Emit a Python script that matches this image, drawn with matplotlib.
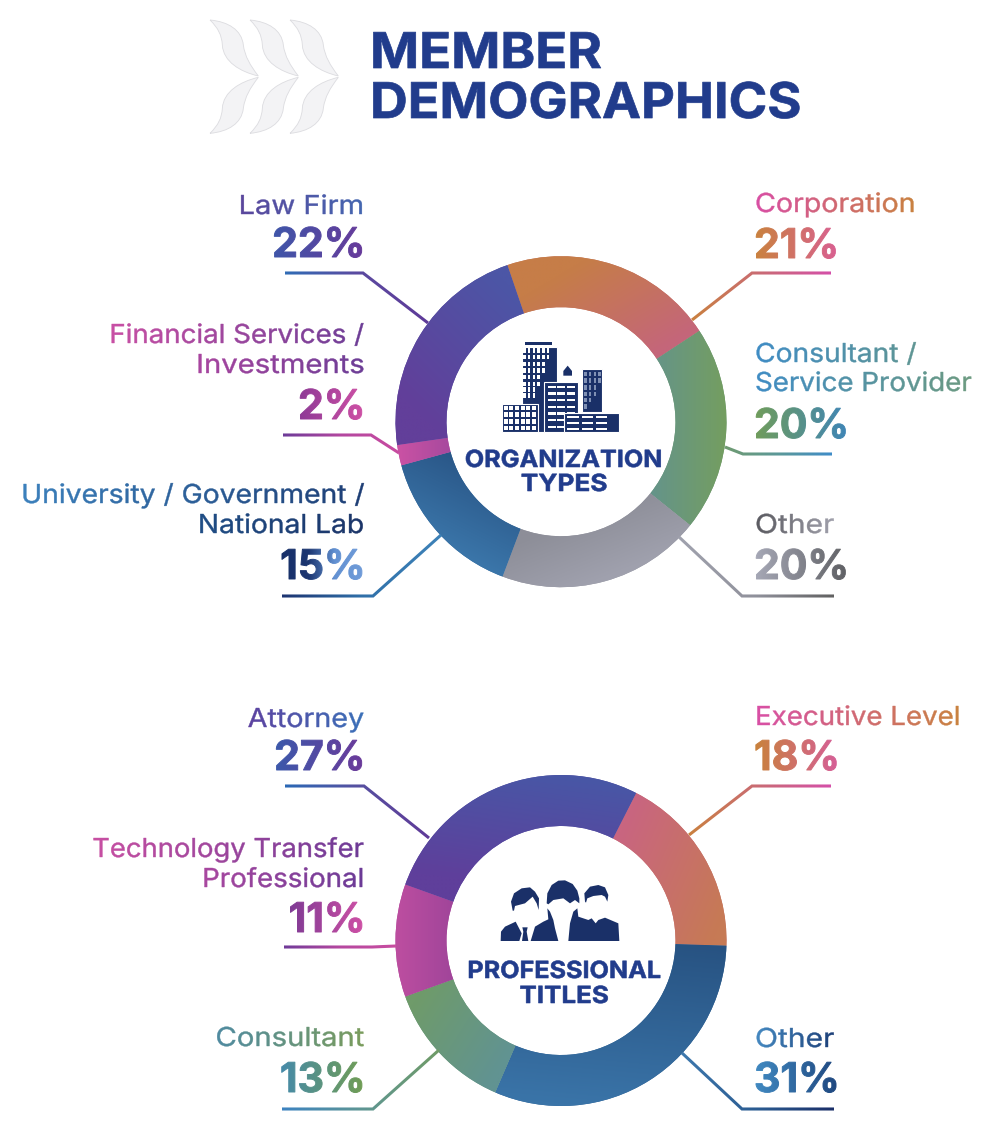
import math

import numpy as np
import matplotlib
matplotlib.use('Agg')
import matplotlib.pyplot as plt
import matplotlib.patheffects as pe
from matplotlib.colors import to_rgb
from matplotlib.patches import Rectangle, Polygon, PathPatch
from matplotlib.path import Path
from matplotlib.transforms import Affine2D, Bbox

# organization types, clockwise from the law firm / corporation edge
org_names = ['Corporation', 'Consultant /\nService Provider', 'Other',
             'University / Government /\nNational Lab',
             'Financial Services /\nInvestments', 'Law Firm']
org_values = [21, 20, 20, 15, 2, 22]

# professional titles, clockwise
title_names = ['Executive Level', 'Other', 'Consultant',
               'Technology Transfer\nProfessional', 'Attorney']
title_values = [18, 31, 13, 11, 27]

FONT = 'Inter'
NAVY = '#1a3068'
BLUE = '#213c8c'
SX_LABEL = 1.06
SX_PCT = 1.0
SX_HEAD = 1.06


class Grad(pe.AbstractPathEffect):
    # paints whatever it gets in 1px columns, colour running left to right,
    # sx stretches the glyphs about anchor x (Montserrat is wider than what we have),
    # thick adds a thin outline to glyphs for the heavier look
    def __init__(self, stops, sx=1.0, anchor=None, thick=0.0):
        super().__init__()
        self.rgb = np.array([to_rgb(c) for c in stops])
        self.sx = sx
        self.anchor = anchor
        self.thick = thick

    def draw_path(self, renderer, gc, tpath, affine, rgbFace=None):
        if self.anchor is not None:
            ax0 = canvas.transData.transform(self.anchor)[0]
            affine = affine + Affine2D().translate(-ax0, 0).scale(self.sx, 1).translate(ax0, 0)
        ext = tpath.get_extents(affine)
        pos = np.linspace(0, 1, len(self.rgb))
        h = renderer.height
        for px in range(math.floor(ext.x0) - 3, math.ceil(ext.x1) + 3):
            t = np.clip((px + 0.5 - ext.x0) / max(ext.width, 1), 0, 1)
            col = tuple(np.interp(t, pos, self.rgb[:, i]) for i in range(3))
            g = renderer.new_gc()
            g.copy_properties(gc)
            g.set_foreground(col)
            if rgbFace is not None:
                g.set_linewidth(self.thick)
            g.set_clip_rectangle(Bbox([[px, 0], [px + 1, h]]))
            renderer.draw_path(g, tpath, affine, col if rgbFace is not None else None)
            g.restore()


def put(x, y, s, size, weight, ha, stops, sx, thick):
    canvas.text(x, y, s, fontsize=size, fontweight=weight, family=FONT, ha=ha, va='baseline',
                path_effects=[Grad(stops, sx, (x, y), thick)])


def label(x, y, s, ha, stops, sx=SX_LABEL):
    put(x, y, s, 18.8, 'normal', ha, stops, sx, 0.3)


def pct(x, y, v, ha, stops):
    put(x + (1.5 if ha == 'right' else -1), y, f'{v}%', 29.5, 'bold', ha, stops, SX_PCT, 0.7)


def leader(xs, ys, stops):
    canvas.plot(xs, ys, lw=2.2, solid_joinstyle='miter', solid_capstyle='butt',
                path_effects=[Grad(stops)])


def donut(cy, values, start, grads):
    R = 165.5
    m = 1.02
    ax = fig.add_axes([(561 - R * m) / 1000, 1 - (cy + R * m) / 1146, 2 * R * m / 1000, 2 * R * m / 1146])
    wedges, _ = ax.pie(values, startangle=start, counterclock=False, radius=1, frame=True,
                       wedgeprops=dict(width=1 - 114.5 / 165.5, linewidth=0))
    xx, yy = np.meshgrid(np.linspace(-m, m, 340), np.linspace(m, -m, 340))
    for w, (p0, c0, p1, c1) in zip(wedges, grads):
        dx, dy = p1[0] - p0[0], p1[1] - p0[1]
        t = np.clip(((xx - p0[0]) * dx + (yy - p0[1]) * dy) / (dx * dx + dy * dy), 0, 1)[..., None]
        img = np.array(to_rgb(c0)) * (1 - t) + np.array(to_rgb(c1)) * t
        w.set_facecolor(np.array(to_rgb(c0)) * 0.5 + np.array(to_rgb(c1)) * 0.5)
        im = ax.imshow(img, extent=(-m, m, -m, m), interpolation='bilinear', zorder=3)
        im.set_clip_path(w)
    ax.set_xlim(-m, m)
    ax.set_ylim(-m, m)
    ax.set_aspect('equal')
    ax.axis('off')


def rects(x0, y0, xs, ys, w, h, counts=None, color='white', z=6):
    # window grid given in 3x zoom coordinates of the icon
    for r, y in enumerate(ys):
        n = len(xs) if counts is None else counts[r]
        for x in xs[:n]:
            canvas.add_patch(Rectangle((x0 + x / 3, y0 + y / 3), w / 3, h / 3, fc=color, lw=0, zorder=z))


def block(x0, y0, x1, y1, z, off=(495, 335), edge='white'):
    canvas.add_patch(Rectangle((off[0] + x0 / 3, off[1] + y0 / 3), (x1 - x0) / 3, (y1 - y0) / 3,
                               fc=NAVY, ec=edge, lw=0.8, zorder=z))


def blob(pts, z=5):
    p = [(490 + x / 3, 870 + y / 3) for x, y in pts]
    canvas.add_patch(Polygon(p, closed=True, fc=NAVY, lw=0, zorder=z))


fig = plt.figure(figsize=(10, 11.46), dpi=100, facecolor='white')

donut(421.7, org_values, 108.9, [
    ((0.1, 0.95), '#c67d48', (0.45, 0.35), '#c4667a'),
    ((0.55, 0), '#65948a', (1, 0), '#749e60'),
    ((0, -0.62), '#8d8e98', (0.15, -1), '#a0a1ae'),
    ((-0.35, -0.35), '#2a5788', (-0.6, -0.85), '#3c78ac'),
    ((-1, 0), '#cc52a4', (-0.68, 0), '#a84a9e'),
    ((-0.2, 0.7), '#4c56a6', (-0.85, 0.05), '#623f9a'),
])
donut(940.5, title_values, 63, [
    ((0.3, 0.5), '#c96580', (1, 0.2), '#c67a55'),
    ((0.3, 0.1), '#26507f', (0.2, -1), '#3a74a8'),
    ((-0.9, -0.4), '#6f9b6a', (-0.35, -0.75), '#619392'),
    ((-1, 0), '#bd4ea0', (-0.65, 0), '#a0459a'),
    ((0, 1), '#4857a6', (-0.1, 0.3), '#5f3f9b'),
])

canvas = fig.add_axes([0, 0, 1, 1], facecolor='none')
canvas.set_xlim(0, 1000)
canvas.set_ylim(1146, 0)
canvas.axis('off')

# header chevrons
leaf_top = [(60, 60), (85, 85), (95, 105), (97, 135), (100, 185), (150, 215), (205, 228),
            (180, 195), (165, 170), (160, 135), (155, 90), (115, 65), (60, 60)]
codes = [Path.MOVETO] + [Path.CURVE4] * 12
for k in range(3):
    for flip in (False, True):
        v = [(190 + (x + 120 * k) / 3, (460 - y if flip else y) / 3) for x, y in leaf_top]
        canvas.add_patch(PathPatch(Path(v, codes), fc='#f3f3f5', ec='#dcdce0', lw=0.6))

put(370, 68, 'MEMBER', 35.5, 'bold', 'left', [BLUE, BLUE], 1.07, 0.5)
put(370, 118, 'DEMOGRAPHICS', 35.5, 'bold', 'left', [BLUE, BLUE], SX_HEAD, 0.5)

# left and right labels
LX, RX = 364, 755
label(LX, 214, org_names[5], 'right', ['#5a469c', '#4466b0'], 1.115)
pct(LX, 257, org_values[5], 'right', ['#3f55a8', '#663a9a'])
l1, l2 = org_names[4].split('\n')
label(LX, 343, l1, 'right', ['#c84fa4', '#6c3d96'])
label(LX, 373, l2, 'right', ['#a8459f', '#6c3d96'], 1.12)
pct(LX, 419, org_values[4], 'right', ['#8f3a96', '#cc4fa4'])
l1, l2 = org_names[3].split('\n')
label(LX, 503, l1, 'right', ['#3b80bc', '#1d3d74'], 1.082)
label(LX, 533, l2, 'right', ['#1f4d85', '#1b3468'], 1.08)
pct(LX, 579, org_values[3], 'right', ['#172f68', '#1b3570', '#6291d2', '#6f9bd8'])

label(RX, 212, org_names[0], 'left', ['#d84ea3', '#c98140'], 1.095)
pct(RX, 258, org_values[0], 'left', ['#c9813f', '#d8608f'])
l1, l2 = org_names[1].split('\n')
label(RX, 362, l1, 'left', ['#3f8cc4', '#5f9593'], 1.08)
label(RX, 391, l2, 'left', ['#3f8cc4', '#6c9a80'])
pct(RX, 438, org_values[1], 'left', ['#6f9c5c', '#3f85b4'])
label(RX, 533, org_names[2], 'left', ['#5a5a60', '#a0a0ab'], 1.15)
pct(RX, 579, org_values[2], 'left', ['#a5a7b5', '#606165'])

label(LX, 727, title_names[4], 'right', ['#5d42a0', '#3a70b8'], 1.1)
pct(LX, 770, title_values[4], 'right', ['#3c58aa', '#6a3a9a'])
l1, l2 = title_names[3].split('\n')
label(LX, 857, l1, 'right', ['#c84fa2', '#6d3a96'], 1.05)
label(LX, 887, l2, 'right', ['#a8479f', '#6b3a96'])
pct(LX, 932, title_values[3], 'right', ['#7f3a94', '#cc4fa4'])
label(LX, 1046, title_names[2], 'right', ['#4f8aa0', '#7a9c5c'], 1.12)
pct(LX, 1092, title_values[2], 'right', ['#468aa8', '#6f9c55'])

label(RX, 725, title_names[0], 'left', ['#d84fa5', '#c98240'])
pct(RX, 770, title_values[0], 'left', ['#c8813c', '#d55f95'])
label(RX, 1047, title_names[1], 'left', ['#4488c0', '#1c3f78'], 1.15)
pct(RX, 1092, title_values[1], 'left', ['#4088c0', '#1f4880'])

# leader lines
leader([285, 363, 428], [273, 273, 323], ['#2f6cb5', '#5a4aa0', '#5e3a98'])
leader([283, 371, 399], [435, 435, 453], ['#6c3a98', '#b3479f', '#c84ba0'])
leader([282, 373, 441], [596, 596, 535], ['#1c3370', '#2f6fa8', '#3d82b8'])
leader([692, 752, 831], [320, 273, 273], ['#c9803f', '#c96a75', '#d44fa8'])
leader([725, 743, 832], [447, 454, 454], ['#6f9a70', '#5b9898', '#3f8cc8'])
leader([679, 742, 834], [537, 596, 596], ['#a0a2ae', '#8f909a', '#606060'])
leader([285, 364, 429], [786, 786, 838], ['#2a68b5', '#5650a0', '#5f3a98'])
leader([284, 372, 396], [947, 947, 946], ['#6f3a98', '#b5479f', '#c84da0'])
leader([282, 373, 439], [1109, 1109, 1050], ['#3c82c0', '#5d9594', '#6f9b66'])
leader([689, 752, 831], [835, 786, 786], ['#c9803f', '#c96a75', '#d44fa8'])
leader([682, 742, 834], [1053, 1109, 1109], ['#3d78ad', '#2a5a90', '#1a2e68'])

# centre captions
for y, s, cx, sx in [(467, 'ORGANIZATION', 563.5, 1.065), (491, 'TYPES', 564, 1.11),
                     (978, 'PROFESSIONAL', 564, 1.065), (1003, 'TITLES', 564, 1.1)]:
    canvas.text(cx, y, s, fontsize=17, fontweight='bold', family=FONT, ha='center', va='baseline',
                path_effects=[Grad([BLUE, BLUE], sx, (cx, y), 0.4)])

# buildings
canvas.add_patch(Rectangle((495 + 90 / 3, 335 + 22 / 3), 82 / 3, 8 / 3, fc=NAVY, lw=0, zorder=5))
block(80, 36, 185, 290, 5)
rects(495, 335, [84, 98, 113, 127, 141, 155], [40, 60, 80, 100, 120, 140, 157, 175], 8, 13,
      [6, 6, 5, 5, 4, 4, 3, 3])
block(262, 103, 320, 230, 5)
rects(495, 335, [268, 282, 296, 310], [110, 130, 150, 170, 188, 208], 7, 14, [4, 4, 3, 3, 2, 1], '#7f90b4')
canvas.add_patch(Polygon([(495 + 205 / 3, 335 + 108 / 3), (495 + 218 / 3, 335 + 92 / 3), (495 + 231 / 3, 335 + 108 / 3),
                          (495 + 231 / 3, 335 + 122 / 3), (495 + 205 / 3, 335 + 122 / 3)], fc=NAVY, lw=0, zorder=5))
block(148, 140, 248, 290, 7)
rects(495, 335, [158, 186, 216], [152, 172, 192, 212, 232, 252, 272], 24, 7, z=8)
block(22, 208, 128, 290, 9)
rects(495, 335, [26, 43, 60, 77, 94, 111], [212, 232, 252, 272], 12, 14, z=10)
block(207, 235, 373, 290, 11)
rects(495, 335, [217, 260, 302], [242, 260, 278], 35, 6, z=12)

# people
blob([(68, 122), (63, 95), (72, 70), (95, 55), (120, 52), (135, 65), (147, 85), (146, 120), (140, 100),
      (128, 80), (105, 100), (75, 108), (72, 122)])
blob([(32, 213), (33, 185), (45, 170), (77, 155), (95, 190), (88, 213)])
blob([(97, 172), (113, 172), (110, 185), (115, 213), (96, 213), (100, 185)])
blob([(122, 213), (135, 170), (160, 155), (175, 148), (172, 115), (180, 125), (190, 150), (195, 175), (205, 213)])
blob([(170, 100), (172, 70), (185, 45), (205, 32), (225, 31), (248, 42), (262, 62), (268, 85), (268, 100),
      (255, 90), (240, 100), (220, 85), (190, 90), (175, 103)])
blob([(285, 95), (283, 70), (300, 50), (325, 45), (345, 52), (355, 75), (352, 95), (345, 80), (335, 75),
      (310, 78), (292, 85), (288, 98)])
blob([(235, 213), (240, 160), (250, 125), (262, 115), (265, 140), (295, 150), (305, 145), (317, 160), (325, 150),
      (345, 143), (385, 160), (388, 213)])

fig.savefig('out.png', dpi=100)
